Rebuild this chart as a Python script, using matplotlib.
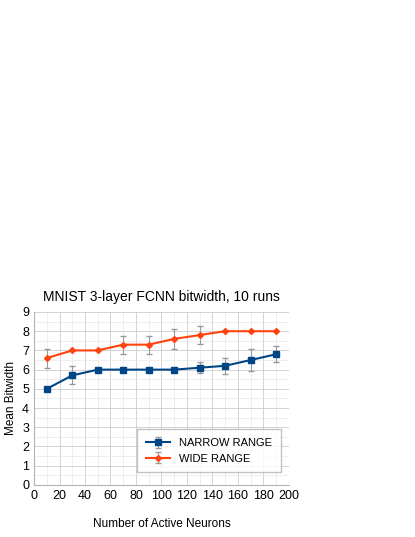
import matplotlib.pyplot as plt

neurons = [10, 30, 50, 70, 90, 110, 130, 150, 170, 190]
narrow_mean = [5.0, 5.7, 6.0, 6.0, 6.0, 6.0, 6.1, 6.2, 6.5, 6.8]
narrow_err = [0, 0.47, 0, 0, 0, 0, 0.3, 0.42, 0.55, 0.42]
wide_mean = [6.6, 7.0, 7.0, 7.3, 7.3, 7.6, 7.8, 8.0, 8.0, 8.0]
wide_err = [0.5, 0, 0, 0.47, 0.47, 0.52, 0.45, 0, 0, 0]

plt.rcParams['font.family'] = ['Liberation Sans', 'DejaVu Sans']

fig = plt.figure(figsize=(4.15, 5.37), dpi=100)
ax = fig.add_axes([0.082, 0.097, 0.614, 0.322])

ax.errorbar(neurons, narrow_mean, yerr=narrow_err, color='#004586', marker='s',
            markersize=5, linewidth=1.5, ecolor='#999999', elinewidth=0.8,
            capsize=2, label='NARROW RANGE')
ax.errorbar(neurons, wide_mean, yerr=wide_err, color='#ff420e', marker='D',
            markersize=3, linewidth=1.5, ecolor='#999999', elinewidth=0.8,
            capsize=2, label='WIDE RANGE')

ax.set_xlim(0, 200)
ax.set_ylim(0, 9)
ax.set_xticks(range(0, 201, 20))
ax.set_yticks(range(0, 10))
ax.set_xticks(range(0, 201, 10), minor=True)
ax.set_yticks([i * 0.5 for i in range(19)], minor=True)
ax.grid(True, which='major', color='#cccccc', linewidth=0.6)
ax.grid(True, which='minor', color='#e8e8e8', linewidth=0.5)
ax.set_axisbelow(True)
ax.tick_params(which='both', length=0, labelsize=9)
for s in ['top', 'right']:
    ax.spines[s].set_visible(False)
for s in ['left', 'bottom']:
    ax.spines[s].set_color('#b3b3b3')

ax.set_title('MNIST 3-layer FCNN bitwidth, 10 runs', fontsize=10, pad=8)
ax.set_xlabel('Number of Active Neurons', fontsize=8.5, labelpad=12)
ax.set_ylabel('Mean Bitwidth', fontsize=8.5)

leg = ax.legend(loc='lower right', bbox_to_anchor=(0.99, 0.04), fontsize=8,
                frameon=True, fancybox=False, edgecolor='#b3b3b3',
                borderpad=0.8, handlelength=2.2)

fig.savefig('out.png', dpi=100)
